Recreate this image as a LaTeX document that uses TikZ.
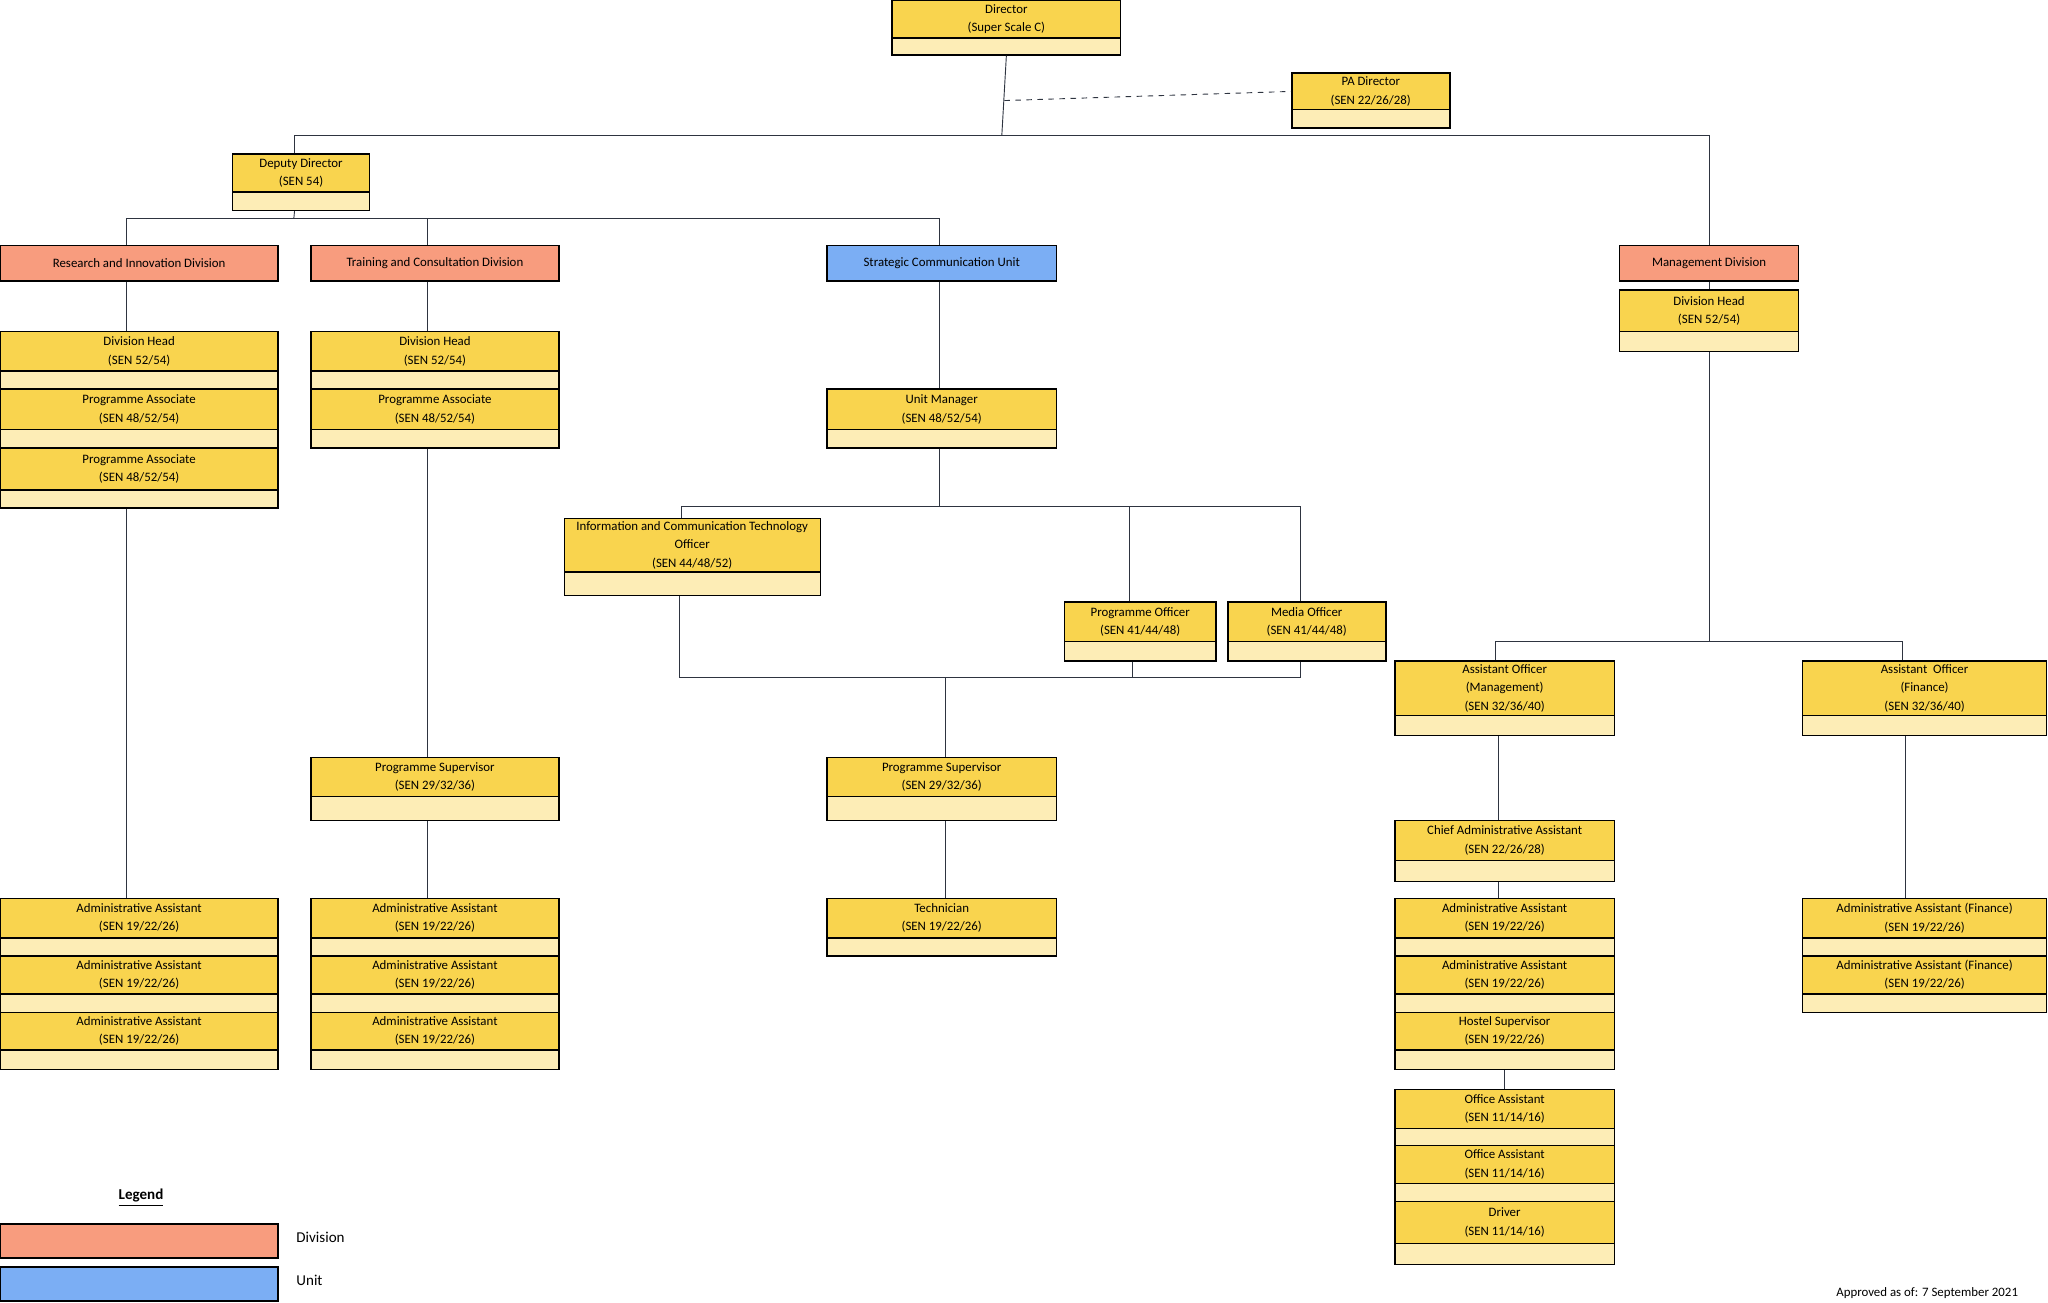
\documentclass[tikz,border=0pt]{standalone}
\usepackage{fontspec}
\setmainfont{Carlito}
\usetikzlibrary{positioning}

\definecolor{postyellow}{HTML}{F9D44E}
\definecolor{stripyellow}{HTML}{FDEDB6}
\definecolor{divsalmon}{HTML}{F89C7E}
\definecolor{unitblue}{HTML}{7BAEF4}
\definecolor{linegray}{HTML}{2E3440}

\tikzset{
  post/.style={draw=black, line width=0.8pt, fill=postyellow, inner sep=0pt, align=center,
    font=\fontsize{7}{9.9}\selectfont},
  strip/.style={draw=black, line width=0.8pt, fill=stripyellow, inner sep=0pt},
  division/.style={post, fill=divsalmon},
  unit/.style={post, fill=unitblue},
  link/.style={draw=linegray, line width=0.5pt}
}

% name, x1, x2, y1, y2, y3, text
\newcommand{\post}[7]{%
  \node[post, minimum width={(#3-#2)*0.025cm}, minimum height={(#5-#4)*0.025cm}]
    (#1) at ({(#2+#3)/2},{(#4+#5)/2}) {#7};
  \node[strip, minimum width={(#3-#2)*0.025cm}, minimum height={(#6-#5)*0.025cm}]
    (#1s) at ({(#2+#3)/2},{(#5+#6)/2}) {};}
% style, name, x1, x2, y1, y2, text
\newcommand{\head}[7]{%
  \node[#1, minimum width={(#4-#3)*0.025cm}, minimum height={(#6-#5)*0.025cm}]
    (#2) at ({(#3+#4)/2},{(#5+#6)/2}) {#7};}

\begin{document}
\begin{tikzpicture}[x=0.025cm, y=-0.025cm]
   \useasboundingbox (0,0) rectangle (1568,997);

   % top
   \post{dir}{683}{858}{0}{29}{42}{Director\\(Super Scale C)}
   \post{pa}{989}{1110}{56}{84}{98}{PA Director\\(SEN 22/26/28)}
   \post{dep}{178}{283}{118}{147}{161}{Deputy Director\\(SEN 54)}

   \head{division}{rid}{0}{213}{188}{215}{Research and Innovation Division}
   \head{division}{tcd}{238}{428}{188}{215}{Training and Consultation Division}
   \head{unit}{scu}{633}{809}{188}{215}{Strategic Communication Unit}
   \head{division}{mgd}{1240}{1377}{188}{215}{Management Division}

   % research and innovation
   \post{rdh}{0}{213}{254}{284}{298}{Division Head\\(SEN 52/54)}
   \post{rpa}{0}{213}{298}{329}{343}{Programme Associate\\(SEN 48/52/54)}
   \post{rpb}{0}{213}{343}{375}{389}{Programme Associate\\(SEN 48/52/54)}
   \post{raa}{0}{213}{688}{718}{732}{Administrative Assistant\\(SEN 19/22/26)}
   \post{rab}{0}{213}{732}{761}{775}{Administrative Assistant\\(SEN 19/22/26)}
   \post{rac}{0}{213}{775}{804}{819}{Administrative Assistant\\(SEN 19/22/26)}

   % training and consultation
   \post{tdh}{238}{428}{254}{284}{298}{Division Head\\(SEN 52/54)}
   \post{tpa}{238}{428}{298}{329}{343}{Programme Associate\\(SEN 48/52/54)}
   \post{tps}{238}{428}{580}{610}{628}{Programme Supervisor\\(SEN 29/32/36)}
   \post{taa}{238}{428}{688}{718}{732}{Administrative Assistant\\(SEN 19/22/26)}
   \post{tab}{238}{428}{732}{761}{775}{Administrative Assistant\\(SEN 19/22/26)}
   \post{tac}{238}{428}{775}{804}{819}{Administrative Assistant\\(SEN 19/22/26)}

   % strategic communication
   \post{sum}{633}{809}{298}{329}{343}{Unit Manager\\(SEN 48/52/54)}
   \post{ict}{432}{628}{397}{438}{456}{Information and Communication Technology\\Officer\\(SEN 44/48/52)}
   \post{spo}{815}{931}{461}{491}{506}{Programme Officer\\(SEN 41/44/48)}
   \post{smo}{940}{1061}{461}{491}{506}{Media Officer\\(SEN 41/44/48)}
   \post{sps}{633}{809}{580}{610}{628}{Programme Supervisor\\(SEN 29/32/36)}
   \post{ste}{633}{809}{688}{718}{732}{Technician\\(SEN 19/22/26)}

   % management
   \post{mdh}{1240}{1377}{222}{254}{269}{Division Head\\(SEN 52/54)}
   \post{mao}{1068}{1236}{506}{548}{563}{Assistant Officer\\(Management)\\(SEN 32/36/40)}
   \post{mfo}{1380}{1567}{506}{548}{563}{Assistant~ Officer\\(Finance)\\(SEN 32/36/40)}
   \post{mca}{1068}{1236}{628}{659}{675}{Chief Administrative Assistant\\(SEN 22/26/28)}
   \post{maa}{1068}{1236}{688}{718}{732}{Administrative Assistant\\(SEN 19/22/26)}
   \post{mab}{1068}{1236}{732}{761}{775}{Administrative Assistant\\(SEN 19/22/26)}
   \post{mhs}{1068}{1236}{775}{804}{819}{Hostel Supervisor\\(SEN 19/22/26)}
   \post{moa}{1068}{1236}{834}{864}{877}{Office Assistant\\(SEN 11/14/16)}
   \post{mob}{1068}{1236}{877}{906}{920}{Office Assistant\\(SEN 11/14/16)}
   \post{mdr}{1068}{1236}{920}{952}{968}{Driver\\(SEN 11/14/16)}
   \post{mfa}{1380}{1567}{688}{718}{732}{Administrative Assistant (Finance)\\(SEN 19/22/26)}
   \post{mfb}{1380}{1567}{732}{761}{775}{Administrative Assistant (Finance)\\(SEN 19/22/26)}

   % connectors
   \coordinate (topbar) at (767,104);
   \coordinate (pabar) at (769,77);
   \coordinate (depbar) at (225,167);
   \coordinate (sumbar) at (719,388);
   \coordinate (ictbar) at (724,519);
   \coordinate (mgdbar) at (1308.5,491);
   \draw [link] (dirs.south) -- (topbar);
   \draw [link, dashed] (pabar) -- (pa.west);
   \draw [link] ([xshift=-5*0.025cm]dep.north) |- (topbar) -| (mgd.north);
   \draw [link] ([xshift=-5*0.025cm]deps.south) -- (depbar);
   \draw [link] ([xshift=-10*0.025cm]rid.north) |- (depbar) -| ([xshift=-6*0.025cm]tcd.north);
   \draw [link] (depbar) -| ([xshift=-2*0.025cm]scu.north);

   \draw [link] ([xshift=-10*0.025cm]rid.south) -- ([xshift=-10*0.025cm]rdh.north);
   \draw [link] ([xshift=-10*0.025cm]rpbs.south) -- ([xshift=-10*0.025cm]raa.north);

   \draw [link] ([xshift=-6*0.025cm]tcd.south) -- ([xshift=-6*0.025cm]tdh.north);
   \draw [link] ([xshift=-6*0.025cm]tpas.south) -- ([xshift=-6*0.025cm]tps.north);
   \draw [link] ([xshift=-6*0.025cm]tpss.south) -- ([xshift=-6*0.025cm]taa.north);

   \draw [link] ([xshift=-2*0.025cm]scu.south) -- ([xshift=-2*0.025cm]sum.north);
   \draw [link] ([xshift=-2*0.025cm]sums.south) -- (sumbar);
   \draw [link] ([xshift=-8*0.025cm]ict.north) |- (sumbar) -| ([xshift=-5*0.025cm]smo.north);
   \draw [link] (sumbar) -| ([xshift=-8*0.025cm]spo.north);
   \draw [link] ([xshift=-10*0.025cm]icts.south) |- (ictbar) -| ([xshift=-5*0.025cm]smos.south);
   \draw [link] ([xshift=-6*0.025cm]spos.south) |- (ictbar);
   \draw [link] (ictbar) -- ([xshift=3*0.025cm]sps.north);
   \draw [link] ([xshift=3*0.025cm]spss.south) -- ([xshift=3*0.025cm]ste.north);

   \draw [link] (mgd.south) -- (mdh.north);
   \draw [link] (mdhs.south) -- (mgdbar);
   \draw [link] ([xshift=-7*0.025cm]mao.north) |- (mgdbar) -| ([xshift=-17*0.025cm]mfo.north);
   \draw [link] ([xshift=-5*0.025cm]maos.south) -- ([xshift=-5*0.025cm]mca.north);
   \draw [link] ([xshift=-5*0.025cm]mcas.south) -- ([xshift=-5*0.025cm]maa.north);
   \draw [link] (mhss.south) -- (moa.north);
   \draw [link] ([xshift=-15*0.025cm]mfos.south) -- ([xshift=-15*0.025cm]mfa.north);

   % legend
   \node (legend) at (108,917) {\fontsize{8.2}{10}\selectfont\bfseries\underline{Legend}};
   \head{division}{legdiv}{0}{213}{937}{963}{}
   \head{unit}{legunit}{0}{213}{970}{996}{}
   \node [anchor=west, font=\fontsize{8.2}{10}\selectfont] (legdivtext) at (222,947) {Division};
   \node [anchor=west, font=\fontsize{8.2}{10}\selectfont] (legunittext) at (222,980) {Unit};
   \node [anchor=east, font=\fontsize{7}{9}\selectfont] (approved) at (1550,990) {Approved as of: 7 September 2021};
\end{tikzpicture}
\end{document}
